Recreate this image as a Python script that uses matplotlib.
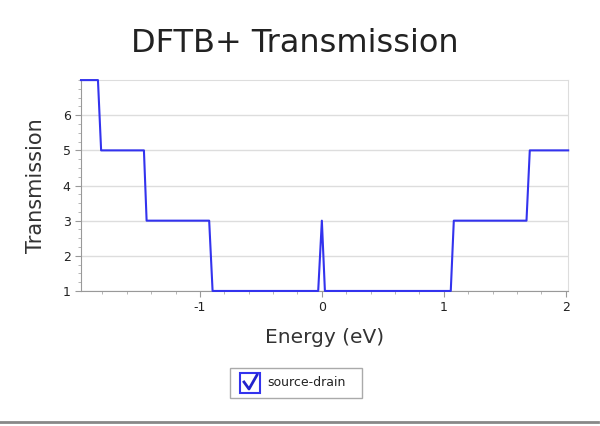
import numpy as np
import matplotlib.pyplot as plt
from matplotlib.patches import Rectangle
from matplotlib.lines import Line2D

plt.rcParams['axes.unicode_minus'] = False

# step-like transmission curve
energy = [-1.975, -1.836, -1.810, -1.459, -1.437, -0.924, -0.896,
          -0.030, 0.000, 0.025, 1.057, 1.082, 1.678, 1.705, 2.020]
transmission = [7, 7, 5, 5, 3, 3, 1,
                1, 3, 1, 1, 3, 3, 5, 5]

x_ticks = [-1, 0, 1, 2]
y_ticks = [1, 2, 3, 4, 5, 6]

fig = plt.figure(figsize=(6, 4.26), dpi=100)
ax = fig.add_axes([0.135, 0.317, 0.812, 0.495])

ax.plot(energy, transmission, color='#3333ee', lw=1.5, clip_on=False, zorder=3)
ax.set_xlim(-1.975, 2.02)
ax.set_ylim(1, 7.0)
ax.set_xticks(x_ticks)
ax.set_yticks(y_ticks)
ax.set_xticks(np.arange(-1.8, 2.01, 0.2), minor=True)
ax.set_yticks(np.arange(1, 7.01, 0.25), minor=True)
ax.grid(axis='y', color='#dddddd', lw=1)
ax.tick_params(colors='#999999', labelcolor='#222222', labelsize=9, length=4)
ax.tick_params(which='minor', length=2, colors='#aaaaaa')
for side in ['left', 'bottom']:
    ax.spines[side].set_color('#999999')
for side in ['right', 'top']:
    ax.spines[side].set_color('#dddddd')

ax.set_ylabel('Transmission', fontsize=15, color='#333333', labelpad=12)
ax.set_xlabel('Energy (eV)', fontsize=14.5, color='#333333', labelpad=10)
fig.text(0.492, 0.898, 'DFTB+ Transmission', fontsize=23, color='#222222',
         ha='center', va='center')

# legend with checkbox
fig.patches.append(Rectangle((230 / 600, 1 - 398 / 426), 132 / 600, 30 / 426,
                             transform=fig.transFigure, fill=False,
                             edgecolor='#aaaaaa', lw=1))
fig.patches.append(Rectangle((240 / 600, 1 - 393 / 426), 20 / 600, 20 / 426,
                             transform=fig.transFigure, facecolor='white',
                             edgecolor='#3333ee', lw=1.5))
fig.lines.append(Line2D([244 / 600, 249 / 600, 257 / 600],
                        [1 - 382 / 426, 1 - 389 / 426, 1 - 375 / 426],
                        transform=fig.transFigure, color='#2222cc', lw=2))
fig.text(267 / 600, 1 - 383 / 426, 'source-drain', fontsize=9,
         color='#222222', va='center')

# gray line at the bottom
fig.lines.append(Line2D([0, 0.997], [1 - 422 / 426] * 2,
                        transform=fig.transFigure, color='#888888', lw=2))

fig.savefig('out.png', dpi=100)
